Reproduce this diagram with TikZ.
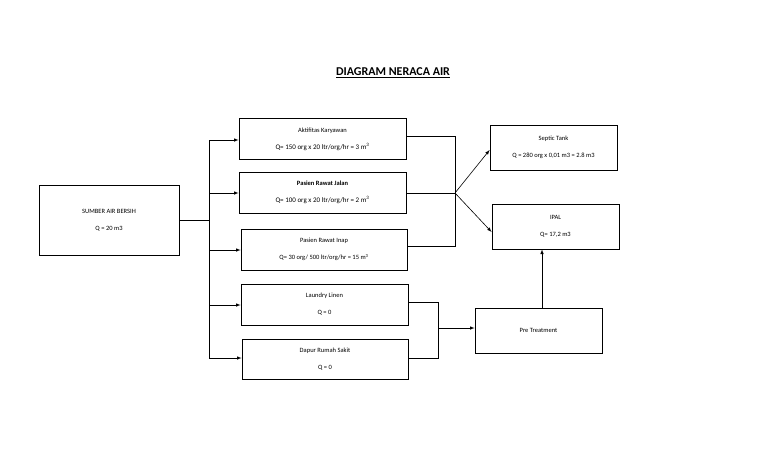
\documentclass[tikz,border=0pt]{standalone}
\usepackage{fontspec}
\setmainfont{Carlito}
\begin{document}
\begin{tikzpicture}[x=1pt,y=-1pt,
 bx/.style={draw,line width=0.8pt,minimum width=167pt,minimum height=41pt,inner sep=0pt,align=center,font=\fontsize{6.5}{13}\selectfont},
 ln/.style={line width=0.6pt},
 ar/.style={ln,-latex}]
\useasboundingbox (0,0) rectangle (768,466);
\node[font=\bfseries\fontsize{12}{14}\selectfont] (title) at (393,73) {\underline{DIAGRAM NERACA AIR}};
\node[bx,minimum width=140pt,minimum height=70pt] (s) at (109,220) {SUMBER AIR BERSIH\\[4pt]Q = 20 m3};
\node[bx] (a) at (322.5,139) {Aktifitas Karyawan\\[4pt]\fontsize{7}{13}\selectfont Q= 150 org x 20 ltr/org/hr = 3 m\textsuperscript{3}};
\node[bx] (j) at (322.5,192.5) {\bfseries Pasien Rawat Jalan\\[4pt]\fontsize{7}{13}\selectfont Q= 100 org x 20 ltr/org/hr = 2 m\textsuperscript{3}};
\node[bx,minimum width=166pt] (i) at (324,249.5) {Pasien Rawat Inap\\[4pt]Q= 30 org/ 500 ltr/org/hr = 15 m\textsuperscript{3}};
\node[bx] (l) at (324.5,304.5) {Laundry Linen\\[4pt]Q = 0};
\node[bx,minimum width=166pt,minimum height=40pt] (d) at (325,359) {Dapur Rumah Sakit\\[4pt]Q = 0};
\node[bx,minimum width=127pt,minimum height=45pt] (t) at (553.5,147.5) {Septic Tank\\[4pt]Q = 280 org x 0,01 m3 = 2.8 m3};
\node[bx,minimum width=127pt,minimum height=45pt] (p) at (555.5,226.5) {IPAL\\[4pt]Q= 17,2 m3};
\node[bx,minimum width=127pt,minimum height=45pt] (r) at (538.5,330.5) {Pre Treatment};
\coordinate (tr) at (209,220);
\draw[ln] (s.east) -- (tr);
\draw[ln] (209,140) -- (209,358);
\draw[ar] (209,140) -- (a.west |- 0,140);
\draw[ar] (209,193) -- (j.west |- 0,193);
\draw[ar] (209,250) -- (i.west |- 0,250);
\draw[ar] (209,305) -- (l.west |- 0,305);
\draw[ar] (209,358) -- (d.west |- 0,358);
\coordinate (jn) at (455,193);
\draw[ln] (a.east |- 0,136) -- (455,136) -- (455,246) -- (i.east |- 0,246);
\draw[ln] (j.east |- 0,193) -- (jn);
\draw[ar] (jn) -- (t.west |- 0,150);
\draw[ar] (jn) -- (p.west |- 0,232);
\coordinate (jl) at (438,328);
\draw[ln] (l.east |- 0,302) -- (438,302) -- (438,358) -- (d.east |- 0,358);
\draw[ar] (jl) -- (r.west |- jl);
\draw[ar] (r.north -| 542,0) -- (p.south -| 542,0);
\end{tikzpicture}
\end{document}
